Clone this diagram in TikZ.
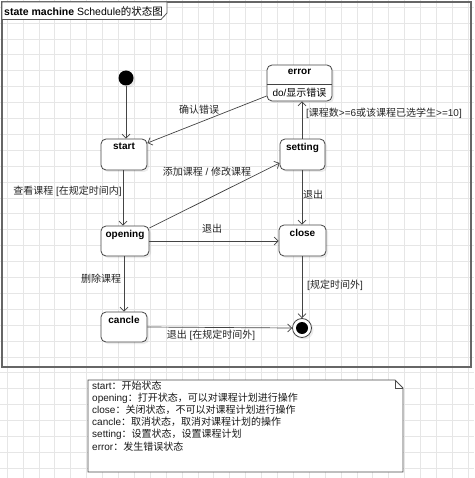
\documentclass[tikz,border=0pt]{standalone}
\usepackage{fontspec}
\setmainfont{Liberation Sans}
\newfontfamily\cjk{Noto Sans CJK SC}
\newcommand\zh[1]{{\cjk #1}}
\usetikzlibrary{arrows.meta,shadows}
\definecolor{gridc}{HTML}{E6E6E6}
\definecolor{linec}{HTML}{444444}
\begin{document}
\begin{tikzpicture}[x=1pt,y=-1pt,
  every node/.style={font=\fontsize{10}{12}\selectfont},
  st/.style={draw=linec, line width=0.8pt, rounded corners=5pt, fill=white,
    drop shadow={opacity=0.15, shadow xshift=2pt, shadow yshift=-2pt}, inner sep=0pt},
  ttl/.style={font=\fontsize{10}{12}\selectfont\bfseries, inner sep=1pt},
  arr/.style={draw=linec, line width=0.7pt, -{Straight Barb[length=4pt,width=8pt]}},
  lbl/.style={font=\fontsize{10}{12}\selectfont, text=black!85, inner sep=0pt}]
\fill[white] (0,0) rectangle (474,478);
\useasboundingbox (0,0) rectangle (474,478);
% grid
\foreach \i in {0,...,29} {
  \draw[gridc, line width=0.5pt] (7+15.9*\i,0) -- (7+15.9*\i,478);
  \draw[gridc, line width=0.5pt] (0,7+15.9*\i) -- (474,7+15.9*\i);
}
% frame
\draw[black!60, line width=1.5pt] (2,2) rectangle (471,367);
\draw[black!65, line width=0.8pt, fill=white] (2,2) -- (167,2) -- (167,13) -- (161,19.5) -- (2,19.5) -- cycle;
\node[anchor=west, inner sep=0pt, font=\fontsize{10.5}{12}\selectfont] (title) at (4,11) {\textbf{state machine} Schedule\zh{的状态图}};

% states
\node[circle, fill=black, minimum size=15, inner sep=0pt,
  drop shadow={opacity=0.15, shadow xshift=2pt, shadow yshift=-2pt}] (init) at (126,78) {};
\node[st, minimum width=46, minimum height=31,
  label={[ttl, anchor=north, yshift=-3pt]north:start}] (start) at (124,154.5) {};
\node[st, minimum width=48, minimum height=30,
  label={[ttl, anchor=north, yshift=-3pt]north:opening}] (opening) at (125,241) {};
\node[st, minimum width=46, minimum height=30,
  label={[ttl, anchor=north, yshift=-3pt]north:cancle}] (cancle) at (124,327) {};
\node[st, minimum width=45, minimum height=31,
  label={[ttl, anchor=north, yshift=-3pt]north:setting}] (setting) at (302.5,154.5) {};
\node[st, minimum width=47, minimum height=31,
  label={[ttl, anchor=north, yshift=-3pt]north:close}] (close) at (302.5,240.5) {};
\node[st, minimum width=65, minimum height=36,
  label={[ttl, anchor=north, yshift=-3pt]north:error}] (error) at (299.5,83) {};
\draw[linec, line width=0.8pt] (error.west |- 0,84) -- (error.east |- 0,84);
\node[lbl, text=black] (errdo) at (299.5,92.5) {do/\zh{显示错误}};
\node[circle, draw=linec, line width=0.8pt, fill=white, minimum size=19, inner sep=0pt,
  drop shadow={opacity=0.15, shadow xshift=2pt, shadow yshift=-2pt}] (final) at (302,328) {};
\fill[black] (final.center) circle (6);

% transitions
\draw[arr] (init) -- (init |- start.north);
\draw[arr] ([yshift=-13pt]error.west) -- ([yshift=11.5pt]start.east);
\node[lbl] (l1) at (199,110) {\zh{确认错误}};
\draw[arr] ([xshift=-1pt]start.south) -- ([xshift=-1pt]start.south |- opening.north);
\node[lbl] (l2) at (67.5,191) {\zh{查看课程} [\zh{在规定时间内}]};
\draw[arr] ([yshift=13pt]opening.east) -- ([yshift=-8.5pt]setting.west);
\node[lbl] (l3) at (207,172) {\zh{添加课程} / \zh{修改课程}};
\draw[arr] (opening.east) -- (opening.east -| close.west);
\node[lbl] (l4) at (212,228.5) {\zh{退出}};
\draw[arr] ([xshift=-1pt]opening.south) -- ([xshift=-1pt]opening.south |- cancle.north);
\node[lbl] (l5) at (101,278.5) {\zh{删除课程}};
\draw[arr] (setting.north -| final) -- (error.south -| final);
\node[lbl] (l6) at (384,113) {[\zh{课程数}>=6\zh{或该课程已选学生}>=10]};
\draw[arr] (setting.south -| final) -- (close.north -| final);
\node[lbl] (l7) at (313,195) {\zh{退出}};
\draw[arr] (close.south -| final) -- (final.north);
\node[lbl] (l8) at (335,285) {[\zh{规定时间外}]};
\draw[arr] (cancle.east) -- (final.west);
\node[lbl] (l9) at (211,335) {\zh{退出} [\zh{在规定时间外}]};

% note
\draw[black!70, line width=0.9pt, fill=white] (88,380) -- (395,380) -- (403,388) -- (403,472) -- (88,472) -- cycle;
\draw[black!70, line width=0.9pt] (395,380) -- (395,388) -- (403,388);
\node[anchor=north west, align=left, inner sep=0pt, text=black!90,
  font=\fontsize{10}{12.2}\selectfont] (note) at (92,380.5) {%
start\zh{：开始状态}\\
opening\zh{：打开状态，可以对课程计划进行操作}\\
close\zh{：关闭状态，不可以对课程计划进行操作}\\
cancle\zh{：取消状态，取消对课程计划的操作}\\
setting\zh{：设置状态，设置课程计划}\\
error\zh{：发生错误状态}};
\end{tikzpicture}
\end{document}
